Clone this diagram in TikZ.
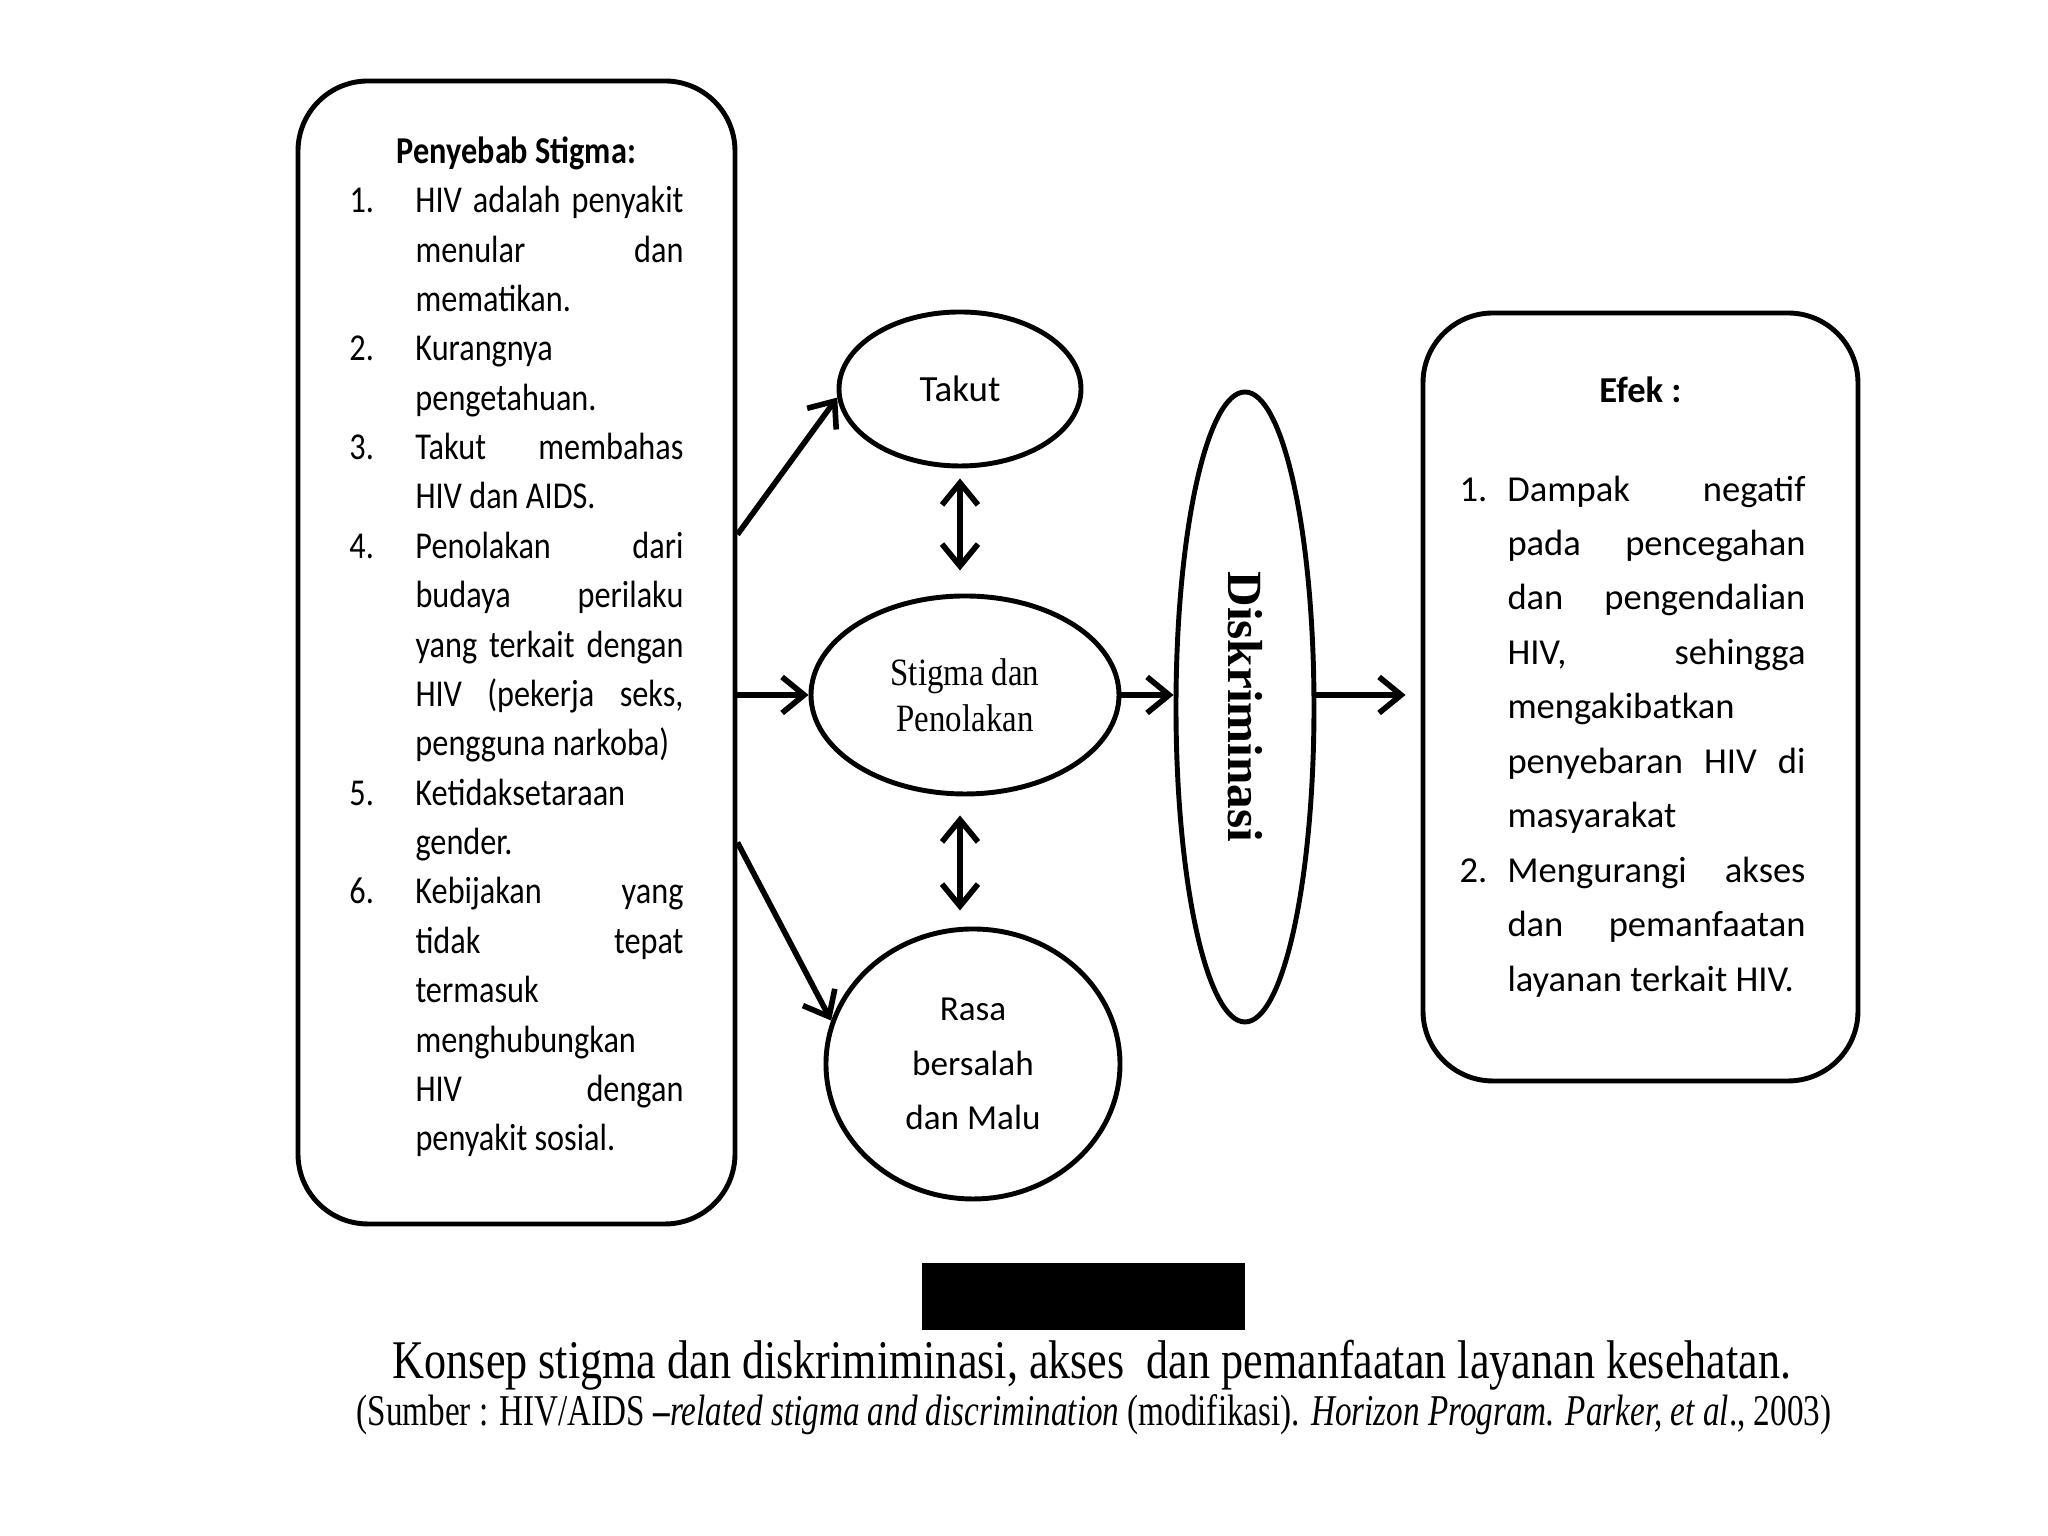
\documentclass[tikz,border=0pt]{standalone}
\usepackage{fontspec}
\setmainfont{Liberation Serif}
\newfontfamily\calnarrow[FakeStretch=0.85]{Carlito}
\newfontfamily\calfont{Carlito}
\newfontfamily\ovalserif[FakeStretch=0.85]{Liberation Serif}
\newfontfamily\capfont[FakeStretch=0.81]{Liberation Serif}
\newfontfamily\srcfont[FakeStretch=0.755]{Liberation Serif}
\usetikzlibrary{shapes.geometric,arrows.meta,positioning}
\newcommand{\jl}[2][2.68cm]{\makebox[#1][s]{#2}}
\newcommand{\nr}[2][0.66cm]{\makebox[#1][l]{#2}}

\begin{document}
\begin{tikzpicture}[line width=1.4pt,
    box/.style={draw, rounded corners=0.7cm, align=left, inner sep=0pt},
    oval/.style={draw, ellipse, inner sep=0pt, align=center},
    arr/.style={-{Straight Barb[length=0.22cm,width=0.36cm]}, line width=1.6pt},
    biarr/.style={{Straight Barb[length=0.22cm,width=0.36cm]}-{Straight Barb[length=0.22cm,width=0.36cm]}, line width=1.6pt}]
    \useasboundingbox (0,0) rectangle (20.48,15.36);
    \node[box, minimum width=4.37cm, minimum height=11.43cm, font=\calnarrow\fontsize{10.8}{14.05}\selectfont] (causes) at (5.165,8.835) {
        \makebox[3.34cm]{\bfseries Penyebab Stigma:}\\
        \nr{1.}\jl{HIV adalah penyakit}\\
        \nr{}\jl{menular dan}\\
        \nr{}mematikan.\\
        \nr{2.}Kurangnya\\
        \nr{}pengetahuan.\\
        \nr{3.}\jl{Takut membahas}\\
        \nr{}HIV dan AIDS.\\
        \nr{4.}\jl{Penolakan dari}\\
        \nr{}\jl{budaya perilaku}\\
        \nr{}\jl{yang terkait dengan}\\
        \nr{}\jl{HIV (pekerja seks,}\\
        \nr{}pengguna narkoba)\\
        \nr{5.}Ketidaksetaraan\\
        \nr{}gender.\\
        \nr{6.}\jl{Kebijakan yang}\\
        \nr{}\jl{tidak tepat}\\
        \nr{}termasuk\\
        \nr{}menghubungkan\\
        \nr{}\jl{HIV dengan}\\
        \nr{}penyakit sosial.\rule[-5pt]{0pt}{5pt}};
    \node[box, minimum width=4.35cm, minimum height=7.68cm, font=\calfont\fontsize{10.4}{15.5}\selectfont] (effects) at (16.405,8.39) {
        \makebox[3.62cm]{\bfseries Efek :}\\[12.4pt]
        \nr[0.48cm]{1.}\jl[2.98cm]{Dampak negatif}\\
        \nr[0.48cm]{}\jl[2.98cm]{pada pencegahan}\\
        \nr[0.48cm]{}\jl[2.98cm]{dan pengendalian}\\
        \nr[0.48cm]{}\jl[2.98cm]{HIV, sehingga}\\
        \nr[0.48cm]{}mengakibatkan\\
        \nr[0.48cm]{}\jl[2.98cm]{penyebaran HIV di}\\
        \nr[0.48cm]{}masyarakat\\
        \nr[0.48cm]{2.}\jl[2.98cm]{Mengurangi akses}\\
        \nr[0.48cm]{}\jl[2.98cm]{dan pemanfaatan}\\
        \nr[0.48cm]{}layanan terkait HIV.\rule[-7.2pt]{0pt}{7.2pt}};
    \node[oval, minimum width=2.42cm, minimum height=1.54cm, font=\calfont\fontsize{10.5}{13}\selectfont] (fear) at (9.60,11.47) {Takut};
    \node[oval, minimum width=3.08cm, minimum height=1.98cm, font=\ovalserif\fontsize{11}{13}\selectfont] (stigma) at (9.65,8.41) {Stigma dan\\Penolakan};
    \node[oval, minimum width=2.94cm, minimum height=2.70cm, font=\calfont\fontsize{10}{15.6}\selectfont] (shame) at (9.73,4.72) {Rasa\\bersalah\\dan Malu};
    \node[oval, minimum width=1.38cm, minimum height=6.30cm] (discr) at (12.45,8.29) {};
    \node[rotate=-90, font=\bfseries\fontsize{14}{16}\selectfont] (discrtext) at (discr) {Diskriminasi};

    \draw[arr] ([yshift=1.18cm]causes.east) -- (fear.184);
    \draw[arr] (causes.east |- stigma.west) -- (stigma.west);
    \draw[arr] ([yshift=-1.9cm]causes.east) -- (shame.163);
    \draw[biarr, shorten <=0.1cm, shorten >=0.23cm] (fear.south) -- (fear.south |- stigma.north);
    \draw[biarr, shorten <=0.19cm, shorten >=0.16cm] (fear.south |- stigma.south) -- (fear.south |- shame.north);
    \draw[arr] (stigma.east) -- (stigma.east -| discr.west);
    \draw[arr, shorten >=0.15cm] (discr.east |- stigma.east) -- (stigma.east -| effects.west);

    \node[fill=black, minimum width=3.23cm, minimum height=0.67cm, inner sep=0pt] (figno) at (10.835,2.395) {};
    \node[font=\capfont\fontsize{15.5}{18}\selectfont] (caption) at (10.92,1.71) {Konsep stigma dan diskrimiminasi, akses\ \ dan pemanfaatan layanan kesehatan.};
    \node[font=\srcfont\fontsize{12.5}{15}\selectfont] (source) at (10.94,1.21) {(Sumber : HIV/AIDS \textbf{–}\textit{related stigma and discrimination} (modifikasi). \textit{Horizon Program. Parker, et al}., 2003)};
\end{tikzpicture}
\end{document}
